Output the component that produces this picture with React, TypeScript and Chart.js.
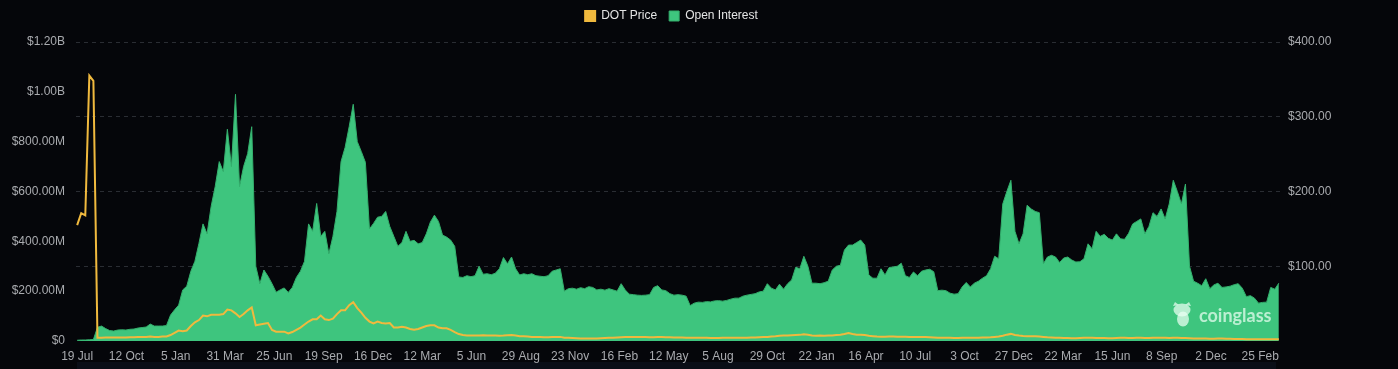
import React, { useEffect, useRef } from 'react';
import { Chart, registerables } from 'chart.js';

Chart.register(...registerables);

// X axis tick labels (one every 85 days, starting 19 Jul 2020)
const tickLabels = [
  '19 Jul', '12 Oct', '5 Jan', '31 Mar', '25 Jun', '19 Sep', '16 Dec', '12 Mar',
  '5 Jun', '29 Aug', '23 Nov', '16 Feb', '12 May', '5 Aug', '29 Oct', '22 Jan',
  '16 Apr', '10 Jul', '3 Oct', '27 Dec', '22 Mar', '15 Jun', '8 Sep', '2 Dec', '25 Feb',
];
const LABEL_STEP_DAYS = 85;
const SAMPLE_STEP_DAYS = 7;

// Open interest in millions of USD, sampled every 7 days
const openInterestM = [
  3, 4, 4, 5, 6, 55, 60, 50, 42, 40,
  44, 45, 44, 47, 48, 52, 54, 56, 68, 60,
  60, 60, 62, 104, 125, 144, 205, 220, 280, 320,
  392, 470, 430, 540, 620, 720, 680, 850, 700, 990,
  620, 700, 752, 860, 300, 230, 285, 260, 230, 196,
  205, 213, 195, 215, 255, 280, 320, 470, 440, 552,
  420, 440, 350, 420, 520, 720, 777, 860, 950, 800,
  760, 717, 450, 472, 497, 500, 520, 460, 420, 380,
  395, 440, 400, 404, 390, 395, 430, 477, 505, 480,
  425, 417, 405, 380, 257, 255, 262, 258, 262, 300,
  268, 270, 266, 272, 290, 335, 310, 337, 290, 265,
  270, 266, 270, 262, 260, 258, 262, 280, 285, 290,
  200, 210, 212, 208, 214, 210, 218, 215, 205, 208,
  204, 210, 205, 200, 230, 205, 188, 186, 184, 183,
  184, 186, 215, 222, 205, 202, 190, 184, 186, 184,
  180, 142, 152, 156, 155, 158, 157, 161, 162, 160,
  163, 168, 172, 172, 180, 184, 187, 190, 197, 200,
  230, 212, 205, 228, 208, 230, 245, 296, 290, 340,
  300, 232, 232, 230, 234, 240, 285, 300, 304, 365,
  385, 385, 395, 405, 385, 265, 252, 252, 290, 265,
  295, 297, 300, 312, 262, 255, 277, 262, 280, 285,
  288, 278, 202, 204, 202, 192, 188, 190, 217, 235,
  217, 232, 240, 252, 262, 290, 340, 330, 550, 600,
  645, 440, 390, 430, 545, 530, 520, 515, 310, 337,
  344, 337, 315, 333, 337, 325, 317, 318, 330, 390,
  370, 440, 420, 428, 412, 405, 430, 410, 408, 432,
  470, 480, 490, 430, 460, 515, 500, 530, 490, 550,
  645, 600, 550, 630, 300, 240, 232, 222, 250, 210,
  225, 232, 215, 217, 220, 226, 230, 212, 178, 182,
  172, 152, 155, 156, 215, 208, 232,
];

// DOT price in USD, sampled every 7 days
const dotPrice = [
  155, 171, 168, 355, 348, 4.5, 4.5, 4.8, 4.8, 4.6,
  4.6, 4.7, 4.8, 5, 5, 5.2, 5.3, 5.5, 6, 5.5,
  5.5, 6, 6, 8, 11, 14, 13, 14, 20, 25,
  28, 34, 33, 35, 35, 35, 36, 42, 41, 37,
  32, 36, 41, 45, 21, 22, 23, 24, 14.7, 12.5,
  12.5, 12.5, 10, 12, 15, 18, 22, 26, 29, 29,
  34, 29, 28, 30, 36, 41, 41, 48, 52, 44,
  38, 31, 26, 23.5, 26, 24, 23.5, 24, 18, 18,
  19, 18, 16, 15, 16, 18, 20, 21, 21, 18,
  17, 17, 15, 12, 9.3, 8, 7.5, 7.3, 7.2, 7.5,
  7.8, 7.5, 7.3, 7.2, 7, 7.2, 7.8, 8, 7.5, 6.5,
  6.2, 6, 5.5, 5.3, 5.2, 5, 5, 5.2, 5.5, 5.5,
  4.5, 4.2, 4, 3.8, 3.5, 3.5, 3.2, 3.2, 3.5, 3.8,
  4, 4.2, 4.5, 4.8, 5, 5.2, 5.5, 5.5, 5.5, 5.2,
  5.3, 5, 5, 5.2, 5.3, 5, 5, 4.8, 4.8, 4.6,
  4.5, 4.2, 4.2, 4.3, 4.2, 4.2, 4, 4, 4, 4.2,
  4.2, 4.2, 4.3, 4.3, 4.2, 4.5, 4.6, 4.8, 5, 5.2,
  5.5, 6, 6.3, 7, 7.3, 7.5, 7.8, 8, 8.2, 9,
  8.5, 7.5, 7, 7.2, 7, 7.3, 7.5, 8, 8.5, 9.5,
  10.7, 9.5, 8.5, 8.5, 8, 7, 6.5, 6, 5.8, 5.8,
  6, 6, 5.8, 5.8, 5.6, 5.5, 5.3, 5.5, 5.5, 5.3,
  5, 4.8, 4.5, 4.3, 4.2, 4.2, 4, 4, 4.2, 4.2,
  4.3, 4.5, 4.5, 4.6, 4.8, 5, 5.5, 6, 7, 8.5,
  9.5, 8, 7.3, 6.8, 6.5, 6.3, 6.5, 6, 5.5, 5,
  4.8, 4.5, 4.3, 4, 4, 3.8, 3.8, 4, 4.2, 4.5,
  4.5, 4, 4, 4, 3.8, 3.8, 4, 4.2, 4.2, 4,
  4, 4.2, 4.2, 4, 4, 4.3, 4.5, 4.3, 4.2, 4,
  4.2, 4.3, 4, 4, 3.8, 3.5, 3.5, 3.3, 3.3, 3,
  3, 3.2, 3.2, 3, 3, 2.8, 2.8, 2.6, 2.5, 2.5,
  2.4, 2.3, 2.2, 2.2, 2.3, 2.5, 2.5,
];

const BG = '#05060a';
const GREEN = '#3ec57e';
const GOLD = '#f0b93e';
const TICK_COLOR = '#a9abaf';
const FONT = "'Liberation Sans', Arial, sans-serif";

function formatOI(v: number): string {
  if (v === 0) return '$0';
  if (v >= 1000) return '$' + (v / 1000).toFixed(2) + 'B';
  return '$' + v.toFixed(2) + 'M';
}

export default function App() {
  const canvasRef = useRef<HTMLCanvasElement>(null);

  useEffect(() => {
    document.body.style.margin = '0';
    document.body.style.background = BG;
    const canvas = canvasRef.current;
    if (!canvas) return;

    const oiData = openInterestM.map((v, i) => ({ x: i * SAMPLE_STEP_DAYS, y: v }));
    const priceData = dotPrice.map((v, i) => ({ x: i * SAMPLE_STEP_DAYS, y: v }));

    const legendTweak = {
      id: 'legendTweak',
      beforeInit(chart: any) {
        const legend = chart.legend;
        if (!legend) return;
        const origFit = legend.fit;
        legend.fit = function () {
          origFit.call(this);
          this.height += 10;
        };
      },
      afterLayout(chart: any) {
        if (chart.legend) chart.legend.right -= 55;
      },
    };

    const decorations = {
      id: 'decorations',
      beforeDraw(chart: any) {
        const ctx = chart.ctx;
        ctx.save();
        ctx.fillStyle = '#0a0e17';
        ctx.fillRect(chart.chartArea.left + 1, 362, chart.chartArea.right - chart.chartArea.left - 5, 7);
        ctx.restore();
      },
      afterDatasetsDraw(chart: any) {
        const ctx = chart.ctx;
        ctx.save();
        ctx.fillStyle = 'rgba(235, 255, 242, 0.72)';
        // mascot head
        ctx.beginPath();
        ctx.ellipse(1182, 310, 8.5, 6.5, 0, 0, Math.PI * 2);
        ctx.fill();
        ctx.beginPath();
        ctx.ellipse(1183, 319, 6, 7.5, 0, 0, Math.PI * 2);
        ctx.fill();
        ctx.beginPath();
        ctx.moveTo(1173, 306);
        ctx.lineTo(1175, 302);
        ctx.lineTo(1179, 305);
        ctx.fill();
        ctx.beginPath();
        ctx.moveTo(1191, 306);
        ctx.lineTo(1189, 302);
        ctx.lineTo(1185, 305);
        ctx.fill();
        ctx.font = "bold 18px Lato, 'Open Sans', sans-serif";
        ctx.textBaseline = 'alphabetic';
        ctx.textAlign = 'left';
        ctx.fillText('coinglass', 1199, 322);
        ctx.restore();
      },
    };

    const chart = new Chart(canvas, {
      type: 'line',
      data: {
        datasets: [
          {
            label: 'DOT Price',
            data: priceData,
            yAxisID: 'y1',
            borderColor: GOLD,
            backgroundColor: GOLD,
            borderWidth: 2,
            pointRadius: 0,
            tension: 0,
            fill: false,
          },
          {
            label: 'Open Interest',
            data: oiData,
            yAxisID: 'y',
            borderColor: '#34b06d',
            backgroundColor: GREEN,
            borderWidth: 1,
            pointRadius: 0,
            tension: 0,
            fill: 'origin',
          },
        ],
      },
      options: {
        animation: false,
        responsive: true,
        maintainAspectRatio: false,
        layout: { padding: { top: -2, left: 0, right: 0, bottom: 0 } },
        plugins: {
          legend: {
            position: 'top',
            align: 'center',
            labels: {
              boxWidth: 10,
              boxHeight: 10,
              padding: 12,
              color: '#e4e4e4',
              font: { family: FONT, size: 12 },
            },
          },
          tooltip: { enabled: false },
        },
        scales: {
          x: {
            type: 'linear',
            min: -2,
            max: 2074,
            afterBuildTicks(scale: any) {
              scale.ticks = tickLabels.map((_, k) => ({ value: k * LABEL_STEP_DAYS }));
            },
            afterFit(scale: any) {
              scale.height = 28;
            },
            ticks: {
              autoSkip: false,
              maxRotation: 0,
              padding: 8,
              color: TICK_COLOR,
              font: { family: FONT, size: 12 },
              callback: (_v: any, i: number) => tickLabels[i],
            },
            grid: { display: false, drawTicks: false },
            border: { display: false },
          },
          y: {
            position: 'left',
            min: 0,
            max: 1200,
            afterFit(scale: any) {
              scale.width = 76;
            },
            ticks: {
              stepSize: 200,
              autoSkip: false,
              padding: 11,
              color: TICK_COLOR,
              font: { family: FONT, size: 12 },
              callback: (v: any) => formatOI(Number(v)),
            },
            grid: { display: false, drawTicks: false },
            border: { display: false },
          },
          y1: {
            position: 'right',
            min: 0,
            max: 400,
            afterFit(scale: any) {
              scale.width = 118;
            },
            ticks: {
              stepSize: 100,
              autoSkip: false,
              padding: 8,
              color: TICK_COLOR,
              font: { family: FONT, size: 12 },
              callback: (v: any) => (Number(v) === 0 ? '' : '$' + Number(v).toFixed(2)),
            },
            grid: {
              drawTicks: false,
              color: (ctx: any) => (ctx.tick && ctx.tick.value === 0 ? 'rgba(0,0,0,0)' : '#2a2d33'),
              lineWidth: 1,
            },
            border: { display: false, dash: [4, 4] },
          },
        },
      },
      plugins: [legendTweak, decorations],
    } as any);

    return () => chart.destroy();
  }, []);

  return (
    <div style={{ position: 'fixed', left: 0, top: 0, width: 1398, height: 369, background: BG }}>
      <canvas ref={canvasRef} />
    </div>
  );
}
